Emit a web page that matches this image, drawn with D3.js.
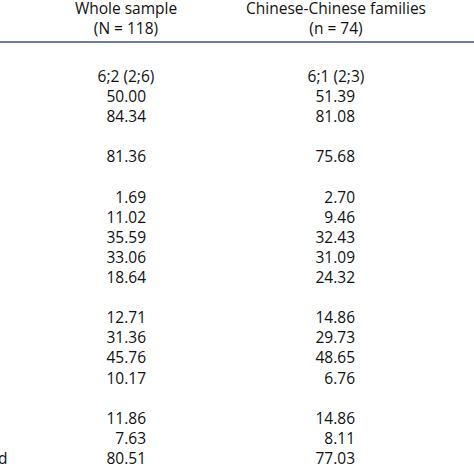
<!DOCTYPE html>
<html><head><meta charset="utf-8">
<script src="https://cdn.jsdelivr.net/npm/d3@7"></script>
<style>body{margin:0;background:#fff}svg{display:block}</style>
</head><body><svg id="c" width="474" height="474"></svg>
<script>
const headers = [["Whole sample","(N = 118)"],["Chinese-Chinese families","(n = 74)"]];
// groups of rows, blank row between groups
const wholeSample = [["6;2 (2;6)","50.00","84.34"],["81.36"],["1.69","11.02","35.59","33.06","18.64"],["12.71","31.36","45.76","10.17"],["11.86","7.63","80.51"]];
const chineseFamilies = [["6;1 (2;3)","51.39","81.08"],["75.68"],["2.70","9.46","32.43","31.09","24.32"],["14.86","29.73","48.65","6.76"],["14.86","8.11","77.03"]];
const rowLabels = [["","",""],[""],["","","","",""],["","","",""],["","","d"]];

const svg = d3.select("#c");
const font = "'Open Sans', sans-serif";
const fs = 15.5;
function flatten(groups){
  const out=[]; let slot=0;
  groups.forEach((g,gi)=>{ if(gi>0) slot++; g.forEach(v=>{out.push({v,slot}); slot++;}); });
  return out;
}
const colA = flatten(wholeSample), colB = flatten(chineseFamilies), labs = flatten(rowLabels);
const y = d3.scaleLinear().domain([0,19]).range([82,464]);
const x = d3.scaleOrdinal().domain([0,1]).range([126,336]);
const xr = d3.scaleOrdinal().domain([0,1]).range([146,355]);

headers.forEach((h,i)=>{
  h.forEach((t,j)=>svg.append("text").attr("x",x(i)).attr("y",14+j*20)
    .attr("text-anchor","middle").attr("font-family",font).attr("font-size",fs).attr("fill","#111").text(t));
});
svg.append("line").attr("x1",0).attr("x2",474).attr("y1",42).attr("y2",42)
  .attr("stroke","#3d4c8c").attr("stroke-width",1.5);

[colA,colB].forEach((col,i)=>{
  svg.selectAll(null).data(col).enter().append("text")
    .attr("x",d=>d.v.includes(";")?x(i):xr(i))
    .attr("y",d=>y(d.slot))
    .attr("text-anchor",d=>d.v.includes(";")?"middle":"end")
    .attr("font-family",font).attr("font-size",fs).attr("fill","#111").text(d=>d.v);
});
svg.selectAll(null).data(labs.filter(d=>d.v)).enter().append("text")
  .attr("x",-2).attr("y",d=>y(d.slot)).attr("font-family",font).attr("font-size",fs).attr("fill","#111").text(d=>d.v);
</script></body></html>
